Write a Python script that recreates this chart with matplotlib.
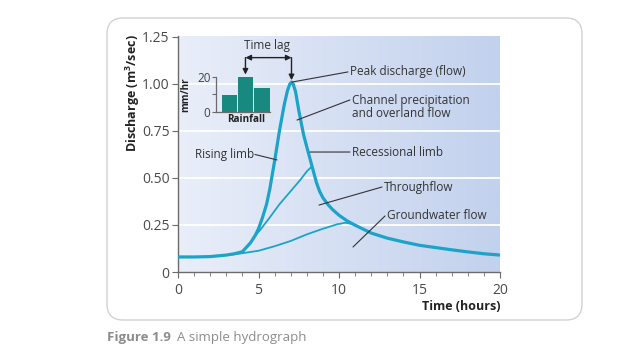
import matplotlib
matplotlib.use("Agg")
import matplotlib.pyplot as plt
import numpy as np
from matplotlib.patches import FancyBboxPatch
from matplotlib.transforms import IdentityTransform

plt.rcParams['font.family'] = ['Open Sans', 'DejaVu Sans']

# ---- data ----
time_main = [0, 1, 2, 3, 3.5, 4, 4.5, 4.8, 5, 5.25, 5.5, 5.7, 6, 6.3, 6.6, 6.8, 6.95,
             7.05, 7.15, 7.3, 7.5, 7.8, 8.0, 8.3, 8.6, 8.8, 9.0, 9.3, 9.6, 10, 10.5,
             11, 12, 13, 14, 15, 16, 17, 18, 19, 20]
q_main = [0.08, 0.08, 0.082, 0.09, 0.097, 0.108, 0.155, 0.195, 0.23, 0.29, 0.36,
          0.44, 0.59, 0.75, 0.89, 0.965, 1.0, 1.01, 1.0, 0.96, 0.86, 0.73, 0.665,
          0.57, 0.475, 0.428, 0.395, 0.36, 0.332, 0.302, 0.272, 0.249, 0.207,
          0.18, 0.16, 0.142, 0.13, 0.118, 0.107, 0.097, 0.09]

time_through = [4.7, 5.1, 5.7, 6.3, 7.0, 7.6, 8.0, 8.3]
q_through = [0.185, 0.223, 0.29, 0.36, 0.43, 0.49, 0.535, 0.56]

time_ground = [3.3, 4, 5, 6, 7, 8, 9, 9.9, 10.4, 10.8]
q_ground = [0.092, 0.1, 0.113, 0.137, 0.165, 0.2, 0.23, 0.254, 0.262, 0.256]

rain_bars = [0, 1, 2]
rainfall = [9.7, 20.3, 13.6]

x_ticks = [0, 5, 10, 15, 20]
y_ticks = [0, 0.25, 0.5, 0.75, 1.0, 1.25]
y_ticklabels = ['0', '0.25', '0.50', '0.75', '1.00', '1.25']

line_col = '#1ba3c9'
text_col = '#333333'
axis_col = '#6b6b6b'

fig = plt.figure(figsize=(6.38, 3.59), dpi=100)

# rounded frame
frame = FancyBboxPatch((107, 39), 475, 302, boxstyle="round,pad=0,rounding_size=16",
                       transform=IdentityTransform(), facecolor='none',
                       edgecolor='#d2d2d2', linewidth=1.0, zorder=-1)
fig.patches.append(frame)

ax = fig.add_axes([178 / 638, 1 - 272 / 359, 322 / 638, 236 / 359])
ax.set_xlim(0, 20)
ax.set_ylim(0, 1.255)

# gradient background
grad = np.linspace(0, 1, 256).reshape(1, -1)
cmap = matplotlib.colors.LinearSegmentedColormap.from_list('bg', ['#e9eef9', '#c2d1ed'])
ax.imshow(grad, extent=[0, 20, 0, 1.255], aspect='auto', cmap=cmap, zorder=0)

for yv in y_ticks[1:-1]:
    ax.axhline(yv, color='white', lw=1.3, zorder=1)

ax.plot(time_ground, q_ground, color=line_col, lw=1.3, zorder=3)
ax.plot(time_through, q_through, color=line_col, lw=1.3, zorder=3)
ax.plot(time_main, q_main, color=line_col, lw=2.3, zorder=4, solid_capstyle='butt')

for s in ['top', 'right']:
    ax.spines[s].set_visible(False)
for s in ['left', 'bottom']:
    ax.spines[s].set_color(axis_col)
    ax.spines[s].set_linewidth(1.0)
ax.set_xticks(x_ticks)
ax.set_xticks(range(0, 21), minor=True)
ax.set_yticks(y_ticks)
ax.set_yticklabels(y_ticklabels)
ax.tick_params(axis='both', which='major', length=4, color=axis_col, labelsize=10,
               labelcolor='#4a4a4a', pad=2)
ax.tick_params(axis='x', which='minor', length=3, color=axis_col)
ax.tick_params(axis='x', pad=4)

fig.text(133 / 638, 1 - 93 / 359, 'Discharge (m$\\mathregular{^3}$/sec)', rotation=90,
         ha='center', va='center', fontsize=9, fontweight='bold', color='#222222')
fig.text(500 / 638, 1 - 307 / 359, 'Time (hours)', ha='right', va='center',
         fontsize=9, fontweight='bold', color='#222222')

# annotations
def label(xy_line, xy_text, txt, ha='left'):
    ax.annotate('', xy=xy_line, xytext=xy_text,
                arrowprops=dict(arrowstyle='-', color='#333333', lw=0.8,
                                shrinkA=0, shrinkB=0), zorder=5)
    dx = 0.12 if ha == 'left' else -0.08
    ax.text(xy_text[0] + dx, xy_text[1], txt, ha=ha, va='center', fontsize=8.5,
            color=text_col, zorder=6, linespacing=1.05)

label((7.08, 1.01), (10.56, 1.064), 'Peak discharge (flow)')
label((7.39, 0.808), (10.68, 0.915), '')
ax.text(10.8, 0.875, 'Channel precipitation\nand overland flow', ha='left', va='center',
        fontsize=8.5, color=text_col, linespacing=1.0)
label((6.15, 0.596), (4.78, 0.625), 'Rising limb', ha='right')
label((8.2, 0.638), (10.68, 0.638), 'Recessional limb')
label((8.76, 0.356), (12.67, 0.452), 'Throughflow')
label((10.87, 0.133), (12.86, 0.298), 'Groundwater flow')

# time lag arrows
arrow_kw = dict(arrowstyle='-|>', color='#222222', lw=1.0, shrinkA=0, shrinkB=0,
                mutation_scale=8)
ax.annotate('', xy=(4.19, 1.05), xytext=(4.19, 1.14), arrowprops=arrow_kw, zorder=7,
            annotation_clip=False)
ax.annotate('', xy=(7.05, 1.02), xytext=(7.05, 1.14), arrowprops=arrow_kw, zorder=7,
            annotation_clip=False)
ax.annotate('', xy=(4.19, 1.14), xytext=(7.05, 1.14),
            arrowprops=dict(arrowstyle='<|-|>', color='#222222', lw=1.0, shrinkA=0,
                            shrinkB=0, mutation_scale=8), zorder=7, annotation_clip=False)
ax.text(5.55, 1.205, 'Time lag', ha='center', va='center', fontsize=8.5, color=text_col)

# rainfall inset
ins = fig.add_axes([216 / 638, 1 - 111.7 / 359, 54 / 638, 34.4 / 359])
ins.patch.set_alpha(0)
ins.bar(rain_bars, rainfall, width=0.95, color='#17897f', zorder=3)
ins.set_xlim(-0.85, 2.5)
ins.set_ylim(0, 20)
ins.set_yticks([0, 10, 20])
ins.set_yticklabels(['0', '', '20'])
ins.set_xticks([])
for s in ['top', 'right']:
    ins.spines[s].set_visible(False)
for s in ['left', 'bottom']:
    ins.spines[s].set_color(axis_col)
    ins.spines[s].set_linewidth(0.9)
ins.spines['left'].set_bounds(0, 20)
ins.tick_params(axis='y', length=3, color=axis_col, labelsize=8.5, labelcolor='#444444', pad=1)
ins.set_ylabel('mm/hr', fontsize=7.2, fontweight='bold', color='#222222')
ins.yaxis.set_label_coords(-0.46, 0.5)
ins.set_xlabel('Rainfall', fontsize=7.2, fontweight='bold', color='#222222')
ins.xaxis.set_label_coords(0.55, -0.08)
ins.xaxis.label.set_va('top')

# caption
fig.text(107 / 638, 1 - 337 / 359, 'Figure 1.9', ha='left', va='center', fontsize=9.5,
         fontweight='bold', color='#8c8c8c')
fig.text(177 / 638, 1 - 337 / 359, 'A simple hydrograph', ha='left', va='center',
         fontsize=9.5, color='#8c8c8c')

fig.savefig('out.png', dpi=100)
